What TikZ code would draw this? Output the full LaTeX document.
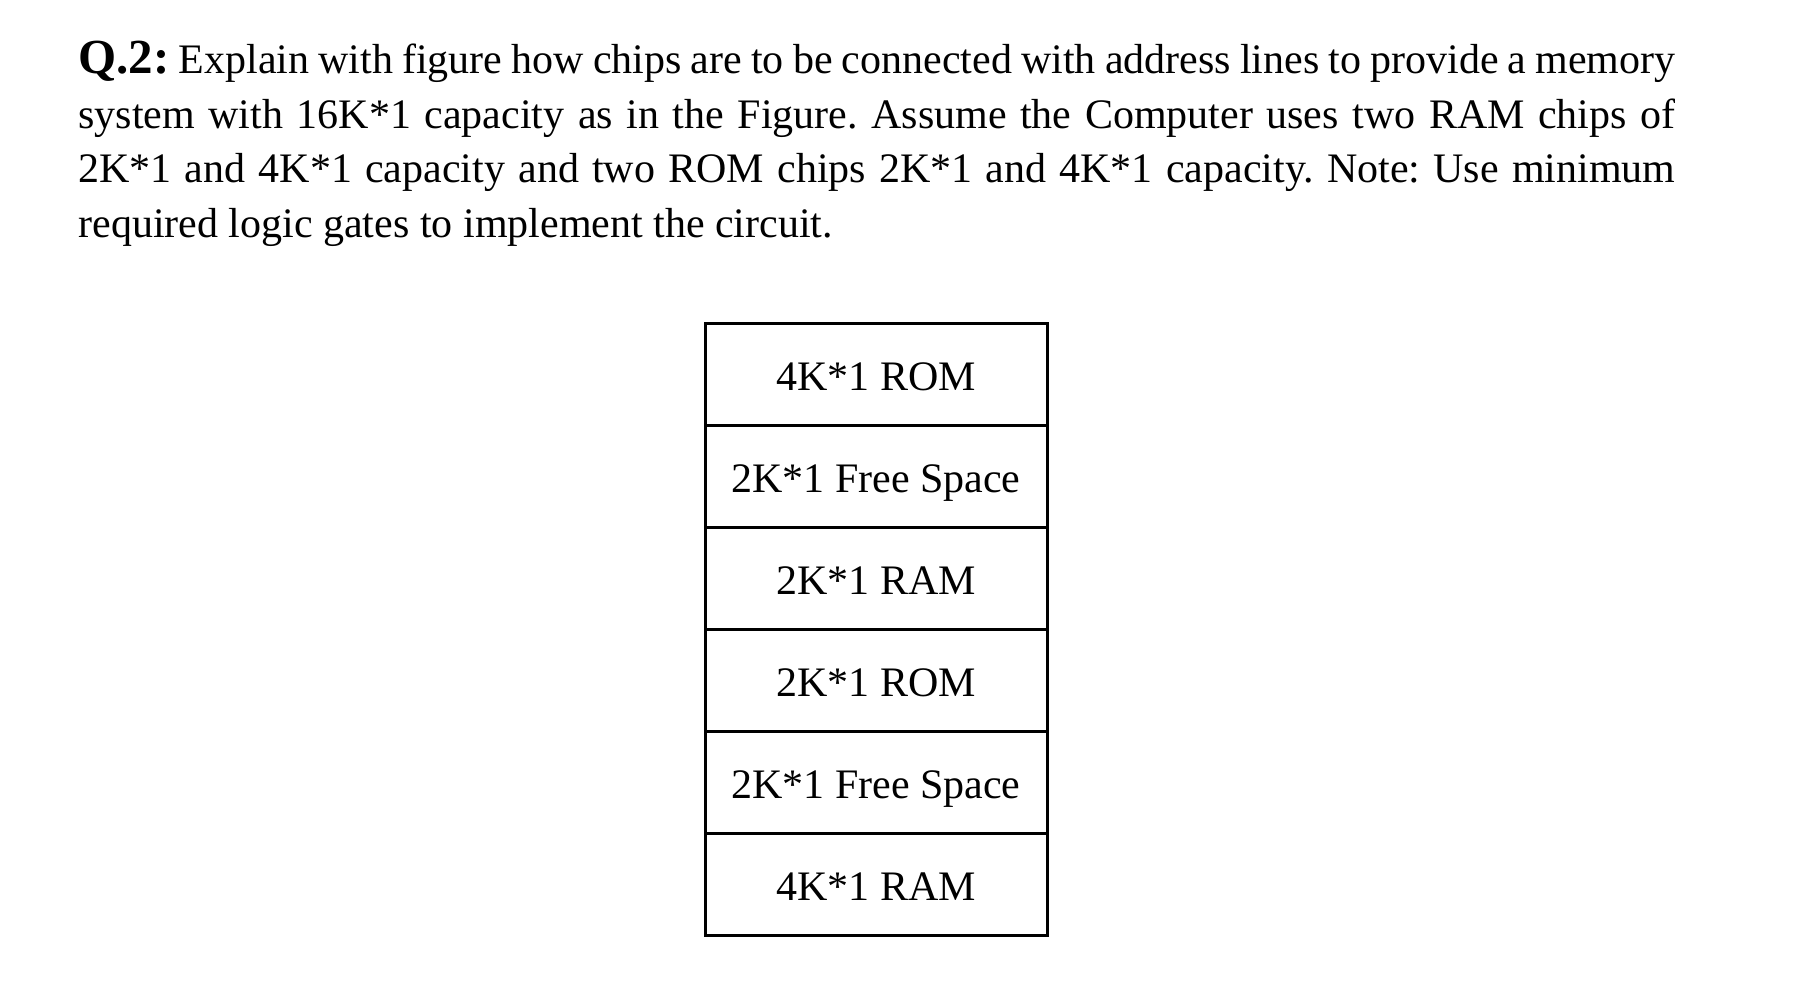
\documentclass[tikz,border=0pt]{standalone}
\usepackage{fontspec}
\setmainfont{Liberation Serif}
\usetikzlibrary{positioning}

\begin{document}
\begin{tikzpicture}[node distance=0pt,
    block/.style={draw,line width=1.5pt,rectangle,minimum width=171pt,minimum height=51pt,
        inner sep=0pt,outer sep=0pt,text height=16pt,text depth=0pt,
        font=\fontsize{21pt}{25pt}\selectfont},
    question/.style={anchor=north west,inner sep=0pt,text width=798.5pt,align=justify,
        font=\fontsize{21pt}{27.25pt}\selectfont\frenchspacing}]
            \useasboundingbox (0,0) rectangle (906pt,-502pt);

            % question text
            \node[question] (q) at (39pt,-20.5pt) {{\fontsize{24.5pt}{27.25pt}\selectfont\textbf{Q.2:}} Explain with figure how chips are to be connected with address lines to provide a memory\linebreak system with 16K*1 capacity as in the Figure. Assume the Computer uses two RAM chips of\linebreak 2K*1 and 4K*1 capacity and two ROM chips 2K*1 and 4K*1 capacity. Note: Use minimum\linebreak required logic gates to implement the circuit.};

            % memory map
            \node[block] (m1) at (438pt,-187.5pt) {4K*1 ROM};
            \node[block] (m2) [below=of m1] {2K*1 Free Space};
            \node[block] (m3) [below=of m2] {2K*1 RAM};
            \node[block] (m4) [below=of m3] {2K*1 ROM};
            \node[block] (m5) [below=of m4] {2K*1 Free Space};
            \node[block] (m6) [below=of m5] {4K*1 RAM};
        \end{tikzpicture}
\end{document}
